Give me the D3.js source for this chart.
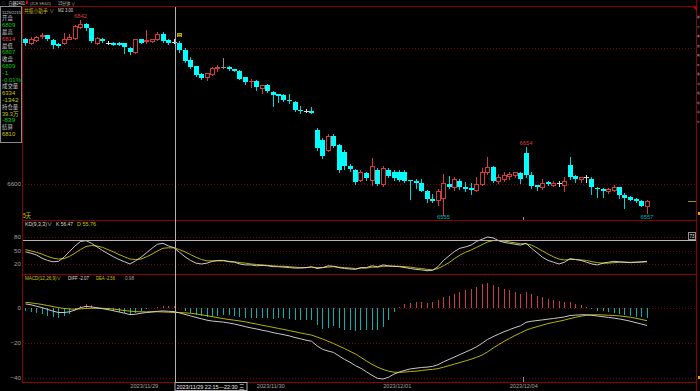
<!DOCTYPE html>
<html><head><meta charset="utf-8">
<script src="https://cdn.jsdelivr.net/npm/d3@7"></script>
<style>
html,body{margin:0;padding:0;background:#000;}
svg{display:block;}
text{font-family:"Liberation Sans","Noto Sans CJK SC",sans-serif;}
</style></head><body>
<svg id="chart" width="700" height="391"></svg>
<script>
// ---- data ----
const opens=[6813,6807,6812,6818,6819,6812,6806,6808,6814,6815,
6831,6835,6829,6808,6814,6808,6808,6808,6807,6800,
6794,6813,6811,6811,6813,6821,6812,6809,6808,6797,
6782,6773,6762,6757,6762,6771,6772,6772,6769,6767,
6757,6751,6752,6742,6746,6736,6732,6731,6723,6721,
6709,6708,6708,6680,6665,6650,6671,6657,6647,6627,
6621,6606,6616,6606,6621,6600,6621,6618,6618,6618,
6606,6604,6602,6590,6578,6576,6580,6600,6596,6605,
6596,6594,6591,6600,6617,6625,6605,6607,6612,6613,
6616,6645,6613,6598,6595,6603,6599,6601,6598,6628,
6612,6607,6610,6608,6594,6593,6589,6591,6595,6584,
6581,6578,6575,6568];
const highs=[6815,6816,6818,6822,6820,6813,6807,6822,6821,6834,
6842,6837,6830,6816,6815,6810,6809,6809,6808,6801,
6814,6814,6826,6814,6823,6823,6813,6814,6810,6800,
6787,6774,6763,6764,6772,6775,6785,6773,6770,6768,
6758,6755,6753,6746,6747,6737,6733,6732,6732,6722,
6715,6710,6713,6682,6667,6673,6673,6659,6650,6630,
6622,6620,6618,6638,6623,6626,6623,6620,6620,6620,
6606,6608,6608,6591,6586,6592,6615,6612,6611,6607,
6603,6601,6611,6623,6640,6627,6615,6617,6618,6618,
6617,6654,6618,6599,6608,6605,6604,6605,6610,6640,
6613,6611,6613,6610,6595,6594,6594,6599,6596,6587,
6582,6579,6576,6576];
const lows=[6805,6806,6811,6815,6812,6800,6801,6806,6813,6814,
6830,6827,6809,6806,6809,6806,6804,6804,6793,6792,
6793,6807,6808,6809,6812,6809,6806,6807,6795,6780,
6771,6759,6754,6753,6761,6767,6771,6768,6766,6754,
6747,6743,6739,6734,6736,6715,6721,6722,6719,6708,
6705,6706,6704,6650,6638,6648,6654,6618,6622,6619,
6600,6604,6606,6599,6598,6597,6610,6606,6604,6603,
6578,6594,6589,6573,6574,6569,6555,6594,6591,6593,
6589,6586,6589,6598,6615,6603,6601,6605,6607,6611,
6601,6611,6594,6591,6593,6598,6597,6597,6589,6608,
6603,6603,6603,6586,6581,6581,6587,6589,6579,6564,
6576,6574,6567,6557];
const closes=[6807,6813,6816,6819,6813,6805,6803,6814,6817,6832,
6835,6829,6811,6815,6810,6808,6805,6805,6801,6795,
6813,6808,6812,6813,6821,6810,6808,6809,6797,6781,
6772,6760,6756,6763,6771,6772,6772,6769,6767,6755,
6750,6752,6743,6745,6737,6731,6730,6723,6722,6709,
6707,6708,6705,6653,6641,6671,6656,6621,6626,6622,
6603,6618,6609,6627,6600,6624,6612,6609,6606,6605,
6605,6602,6590,6578,6575,6590,6601,6596,6607,6595,
6593,6591,6600,6618,6625,6605,6610,6613,6615,6617,
6608,6613,6597,6596,6602,6600,6601,6601,6604,6610,
6607,6610,6610,6595,6592,6589,6592,6595,6584,6580,
6577,6575,6568,6575];
const kValues=[47,44,40,33,28,25,26,35,48,60,70,72,66,58,50,43,36,30,25,20,27,35,
45,55,64,66,60,56.47,46,36,28,22,20,22,26,28,28,25,24,20,18,18,16,17,16,14,
14,13,12,11,11,12,14,10,12,16,15,12,10,9,8,12,12,16,14,18,16,15,14,12,10,
8,7,5,6,14,28,38,48,55,58,62,70,75,80,78,72,68,66,64,62,66,55,
45,35,28,24,20,24,32,30,28,24,20,18,22,24,26,25,24,23,24,25,26];
const dValues=[52,49,46,42,37,33,31,32,37,44,52,59,61,60,57,52,47,41,36,31,30,31,
36,42,49,55,56,55.76,52,47,41,35,30,27,27,27,27,26,25,23,22,20,19,18,17,16,
15,15,14,13,12,12,13,12,12,13,14,13,12,11,10,11,11,13,13,15,15,15,15,14,13,
11,10,8,7,10,16,23,32,40,46,51,57,63,69,72,72,71,69,67,65,65,62,
56,49,42,36,31,29,30,30,29,28,25,23,22,22,23,24,24,24,24,24,25];
const diffValues=[2.3,1.8,1.0,0.2,-0.8,-1.8,-2.6,-2.6,-2.2,-1.2,
0.2,0.9,0.6,0.1,-0.4,-1.0,-1.6,-2.3,-3.0,-3.8,-3.6,-3.0,
-2.6,-2.3,-1.9,-1.7,-1.9,-2.07,-2.8,-3.7,-4.5,-5.4,-6.2,-7.0,-7.5,-7.8,
-8.1,-8.6,-9.2,-9.9,-10.7,-11.4,-12.0,-12.7,-13.3,-14.1,
-14.7,-15.3,-16.0,-16.9,-17.6,-18.4,-19.0,
-21.6,-23.6,-24.6,-25.4,-27.4,-29.4,-31.0,-33.0,
-34.5,-36.5,-38.5,-40.2,-40.6,-39.6,-37.8,-36.6,
-35.6,-34.8,-34.4,-34.0,-33.8,-33.4,-32.4,-30.8,
-29.4,-28.0,-26.6,-25.2,-23.8,-22.2,-20.2,-18.0,
-16.4,-15.0,-13.6,-12.4,-11.2,-10.2,-8.2,
-7.6,-7.2,-6.8,-6.4,-6.0,-5.6,-5.1,-4.3,
-4.1,-3.9,-3.9,-4.2,-4.6,-5.0,-5.4,
-5.8,-6.3,-6.9,-7.6,-8.4,-9.2,-10.0];
const deaValues=[3.2,2.9,2.5,2.0,1.4,0.8,0.2,-0.3,-0.6,-0.7,
-0.5,-0.3,-0.2,-0.15,-0.2,-0.35,-0.6,-1.05,-1.5,-1.8,-2.1,-2.2,
-2.2,-2.2,-2.2,-2.3,-2.45,-2.56,-2.65,-2.8,-3.05,-3.4,-3.9,-4.45,-5.0,-5.55,
-6.1,-6.6,-7.0,-7.45,-7.95,-8.6,-9.2,-9.85,-10.45,-11.05,
-11.7,-12.3,-12.95,-13.6,-14.3,-14.9,-15.5,
-16.6,-17.7,-19.0,-20.3,-21.8,-23.2,-24.8,-26.3,
-28.3,-30.3,-32.2,-33.8,-35.1,-36.1,-36.7,-36.75,
-36.6,-36.3,-36.1,-35.75,-35.35,-35.1,-34.65,-33.85,
-32.95,-32.05,-31.15,-30.25,-29.3,-28.2,-26.95,-25.1,
-22.95,-21.0,-19.1,-17.4,-15.75,-14.25,-12.7,
-11.6,-10.7,-9.8,-8.9,-8.25,-7.6,-6.9,-6.1,
-5.35,-4.7,-4.2,-3.95,-3.85,-4.0,-4.15,
-4.3,-4.55,-4.9,-5.35,-5.9,-6.6,-7.25];
const macdBars=[-1.8,-2.2,-3,-3.6,-4.4,-5.2,-5.6,-4.6,-3.2,-1,
1.4,2.4,1.6,0.5,-0.4,-1.3,-2,-2.5,-3,-4,-3,-1.6,
-0.8,-0.2,0.6,1.2,1.1,0.98,-0.3,-1.8,-2.9,-4,-4.6,-5.1,-5,-4.5,
-4,-4,-4.4,-4.9,-5.5,-5.6,-5.6,-5.7,-5.7,-6.1,
-6,-6,-6.1,-6.6,-6.6,-7,-7,
-10,-11.8,-11.2,-10.2,-11.2,-12.4,-12.4,-13.4,
-12.4,-12.4,-12.6,-12.8,-11,-7,-2.2,0.3,
2,3,3.4,3.5,3.1,3.4,4.5,6.1,
7.1,8.1,9.1,10.1,11,12,13.5,14.2,
13.1,12,11,10,9.1,8.1,9,
8,7,6,5,4.5,4,3.6,3.6,
2.5,1.6,0.6,-0.5,-1.5,-2,-2.5,
-3,-3.5,-4,-4.5,-5,-5.2,-5.5];
const dateLabels=["2023/11/29","2023/11/30","2023/12/01","2023/12/04"];
const dateBarIndex=[21.5,44.5,67.5,90.5];
const priceGrid=[6600,6800];
const priceLabels=[6600]; // 6800 label is hidden behind the info box in the reference
const kdTicks=[80,50,20];
const macdTicks=[0,-20,-40];
const markedHighs=[10,91];
const markedLows=[76,113];
const signalBars=[28];
const crossBar=27;
const infoRows=[
 ["1129/2215","#d0d0d0"],["开盘","#c8c8c8"],["6809","#00c800"],["最高","#c8c8c8"],["6814","#e04040"],
 ["最低","#c8c8c8"],["6807","#00c800"],["收盘","#c8c8c8"],["6809","#00c800"],["-1","#00c800"],
 ["-0.01%","#00c800"],["成交量","#c8c8c8"],["6334","#c8c800"],["-1342","#c8c800"],["持仓量","#c8c8c8"],
 ["39.3万","#c8c800"],["-839","#00c800"],["结算","#c8c8c8"],["6810","#c8c800"]];
const sideGlyphs=["委","比","委","差","卖","买","最","涨","幅","现","总","外"];

// ---- layout ----
const svg=d3.select("#chart");
const L=22,R=696;
const mainTop=6,mainBot=220,kdTop=220,kdBot=274,macdTop=274,macdBot=382;
const N=closes.length;
const x=d3.scaleLinear().domain([0,N-1]).range([25.5,25.5+5.5*(N-1)]);
const yP=d3.scaleLinear().domain([6547,6862]).range([mainBot,mainTop]);
const yK=d3.scaleLinear().domain([-2.2,117.8]).range([kdBot,kdTop]);
const yM=d3.scaleLinear().domain([-42.3,19.4]).range([macdBot,macdTop]);
const RED="#d03c3c",CYAN="#00ffff",CYANW="#00d4d4",GRID="#780000",BORDER="#8c0000",
      YEL="#c8c800",WHITE="#dcdcdc",GREY="#a0a0a0",HCYAN="#00b4b4";

svg.append("rect").attr("width",700).attr("height",391).attr("fill","#000");

function txt(g,tx,ty,s,fill,size,anchor,len){
  const t=g.append("text").attr("x",tx).attr("y",ty).text(s).attr("fill",fill)
   .attr("font-size",size||6).attr("text-anchor",anchor||"start");
  if(len) t.attr("textLength",len).attr("lengthAdjust","spacingAndGlyphs");
  return t;
}
function hdot(v,scale){
  const yy=Math.round(scale(v))+0.5;
  svg.append("line").attr("x1",L).attr("x2",R).attr("y1",yy).attr("y2",yy)
   .attr("stroke",GRID).attr("stroke-dasharray","1,2").attr("shape-rendering","crispEdges");
}
priceGrid.forEach(v=>hdot(v,yP));
kdTicks.forEach(v=>hdot(v,yK));
macdTicks.forEach(v=>hdot(v,yM));

// axes (left)
function leftAxis(scale,ticks){
  const g=svg.append("g").attr("transform",`translate(${L},0)`)
    .call(d3.axisLeft(scale).tickValues(ticks).tickSize(0).tickPadding(1).tickFormat(d3.format("d")));
  g.select(".domain").remove();
  g.selectAll("text").attr("fill",GREY).attr("font-size",6.2).attr("font-family","Liberation Sans");
}
leftAxis(yP,priceLabels);leftAxis(yK,kdTicks);leftAxis(yM,macdTicks);

// bottom axis
const gx=svg.append("g").attr("transform",`translate(0,${macdBot+1})`)
  .call(d3.axisBottom(x).tickValues(dateBarIndex).tickSize(0).tickPadding(1).tickFormat((d,i)=>dateLabels[i]));
gx.select(".domain").remove();
gx.selectAll("text").attr("fill",GREY).attr("font-size",6).attr("font-family","Liberation Sans")
  .attr("textLength",28).attr("lengthAdjust","spacingAndGlyphs");
// week boundary tick
const wx=Math.floor(x(dateBarIndex[3]))+0.5;
svg.append("line").attr("x1",wx).attr("x2",wx).attr("y1",mainBot-3).attr("y2",mainBot).attr("stroke","#909090");
svg.append("line").attr("x1",wx).attr("x2",wx).attr("y1",macdBot-5).attr("y2",macdBot).attr("stroke","#909090");

// ---- candles ----
const gc=svg.append("g").attr("shape-rendering","crispEdges");
for(let i=0;i<N;i++){
  const px=Math.floor(x(i)), o=opens[i], c=closes[i], h=highs[i], l=lows[i];
  const yo=Math.round(yP(o)), yc=Math.round(yP(c)), yh=Math.round(yP(h)), yl=Math.round(yP(l));
  if(o===c){
    const col=(i===36)?"#909090":WHITE;
    gc.append("line").attr("x1",px+0.5).attr("x2",px+0.5).attr("y1",yh).attr("y2",yl+1).attr("stroke",col);
    gc.append("line").attr("x1",px-2).attr("x2",px+3).attr("y1",yo+0.5).attr("y2",yo+0.5).attr("stroke",col);
  } else if(c<o){
    gc.append("line").attr("x1",px+0.5).attr("x2",px+0.5).attr("y1",yh).attr("y2",yl+1).attr("stroke",CYANW);
    gc.append("rect").attr("x",px-2).attr("y",yo).attr("width",5).attr("height",Math.max(1,yc-yo)).attr("fill",CYAN);
  } else {
    const top=yc, bot=yo;
    if(yh<top) gc.append("line").attr("x1",px+0.5).attr("x2",px+0.5).attr("y1",yh).attr("y2",top).attr("stroke",RED);
    if(yl>bot) gc.append("line").attr("x1",px+0.5).attr("x2",px+0.5).attr("y1",bot+1).attr("y2",yl+1).attr("stroke",RED);
    if(bot-top>=2){
      gc.append("rect").attr("x",px-1.5).attr("y",top+0.5).attr("width",4).attr("height",bot-top).attr("fill","#000").attr("stroke",RED);
    } else {
      gc.append("rect").attr("x",px-2).attr("y",top).attr("width",5).attr("height",Math.max(1,bot-top+1)).attr("fill",RED);
      gc.append("line").attr("x1",px+0.5).attr("x2",px+0.5).attr("y1",yh).attr("y2",yl+1).attr("stroke",RED);
    }
  }
}
// signal marker
signalBars.forEach(i=>{
  const px=Math.floor(x(i)), yy=Math.round(yP(highs[i]))-8;
  gc.append("rect").attr("x",px-2).attr("y",yy).attr("width",5).attr("height",4).attr("fill","#b8a800");
  gc.append("line").attr("x1",px-1).attr("x2",px+2).attr("y1",yy+1.5).attr("y2",yy+1.5).attr("stroke","#6a5a00");
  gc.append("line").attr("x1",px-1).attr("x2",px+2).attr("y1",yy+3).attr("y2",yy+3).attr("stroke","#6a5a00");
});
// extreme labels
markedHighs.forEach(i=>txt(svg,x(i),yP(highs[i])-2,String(highs[i]),RED,5.8,"middle",13));
markedLows.forEach(i=>txt(svg,x(i),Math.min(yP(lows[i])+5.5,219),String(lows[i]),"#00b0b0",5.8,"middle",13));

// ---- KD ----
const lineK=d3.line().x((d,i)=>x(i)).y(d=>yK(d));
svg.append("path").attr("d",lineK(dValues)).attr("fill","none").attr("stroke",YEL).attr("stroke-width",0.9);
svg.append("path").attr("d",lineK(kValues)).attr("fill","none").attr("stroke",WHITE).attr("stroke-width",0.9);

// ---- MACD ----
const gh=svg.append("g").attr("shape-rendering","crispEdges");
macdBars.forEach((v,i)=>{
  const px=Math.floor(x(i))+0.5;
  gh.append("line").attr("x1",px).attr("x2",px).attr("y1",Math.round(yM(0))).attr("y2",Math.round(yM(v)))
    .attr("stroke",v>=0?RED:HCYAN);
});
const lineM=d3.line().x((d,i)=>x(i)).y(d=>yM(d));
svg.append("path").attr("d",lineM(deaValues)).attr("fill","none").attr("stroke",YEL).attr("stroke-width",0.9);
svg.append("path").attr("d",lineM(diffValues)).attr("fill","none").attr("stroke",WHITE).attr("stroke-width",0.9);

// ---- panel borders ----
const gb=svg.append("g").attr("shape-rendering","crispEdges");
[mainTop,mainBot,kdBot,macdBot].forEach(yy=>gb.append("line").attr("x1",L).attr("x2",R+1).attr("y1",yy+0.5).attr("y2",yy+0.5).attr("stroke",BORDER));
gb.append("line").attr("x1",L+0.5).attr("x2",L+0.5).attr("y1",mainTop).attr("y2",macdBot+1).attr("stroke",BORDER);
gb.append("line").attr("x1",R+0.5).attr("x2",R+0.5).attr("y1",0).attr("y2",391).attr("stroke",BORDER);
svg.append("path").attr("d",`M${R-3},${mainTop+1}L${R+1},${mainTop+1}L${R+1},${mainTop+5}Z`).attr("fill","#d00000");

// last price marker
const ly=Math.round(yP(closes[N-1]))+0.5;
gb.append("line").attr("x1",R-8).attr("x2",R).attr("y1",ly).attr("y2",ly).attr("stroke","#a09000");
svg.append("rect").attr("x",R+2).attr("y",Math.round(yP(6557))-1).attr("width",2).attr("height",3).attr("fill","#c8b400");
svg.append("rect").attr("x",R+2).attr("y",macdBot-6).attr("width",2).attr("height",3).attr("fill","#c8b400");
// right side column (mostly outside the window in the reference)
sideGlyphs.forEach((s,k)=>txt(svg,697,18+k*9.5,s,"#b0b0b0",2.8,"start"));

// ---- crosshair ----
const cx=Math.floor(x(crossBar))+1.5;
gb.append("line").attr("x1",cx).attr("x2",cx).attr("y1",mainTop+1).attr("y2",macdBot+1).attr("stroke","#b4b4b4");
gb.append("line").attr("x1",L+1).attr("x2",R).attr("y1",240.5).attr("y2",240.5).attr("stroke","#b4b4b4");
svg.append("rect").attr("x",688.5).attr("y",232.5).attr("width",7).attr("height",7).attr("fill","#000").attr("stroke","#909090");
txt(svg,692,238.3,"73","#e0e0e0",5,"middle",5);
svg.append("rect").attr("x",cx-0.5).attr("y",382.5).attr("width",72).attr("height",8).attr("fill","#000").attr("stroke","#b0b0b0");
txt(svg,cx+1,389,"2023/11/29 22:15—22:30 三","#e8e8e8",6,"start",68);

// ---- texts ----
txt(svg,23,218.3,"5天",YEL,6.5,"start",8);
txt(svg,25,226.3,"KD(9,3,3)∨",WHITE,5.4,"start",27);
txt(svg,56,226.3,"K 56.47",WHITE,5.4,"start",17);
txt(svg,77,226.3,"D 55.76",YEL,5.4,"start",19);
txt(svg,25,280.3,"MACD(12,26,9)∨",YEL,5.4,"start",36);
txt(svg,68,280.3,"DIFF -2.07",WHITE,5.4,"start",21);
txt(svg,96,280.3,"DEA -2.56",YEL,5.4,"start",19);
txt(svg,125,280.3,"0.98",GREY,5.4,"start",9);
txt(svg,24,12.5,"共振小助手 ∨","#c8b400",5.5,"start",30);
txt(svg,58,12.2,"M2 3.00",WHITE,4.6,"start",15);

// header
txt(svg,0.5,5,"◁▷","#909090",4,"start",5.5);
txt(svg,8.5,5.3,"白糖2401","#d8d8d8",5,"start",16.5);
svg.append("rect").attr("x",26).attr("y",1).attr("width",2).attr("height",3).attr("fill","#d00000");
txt(svg,30,5.3,"(ZCE SR401)","#b0b0b0",4.2,"start",21);
txt(svg,58,5.3,"15分钟 ∨","#b0b0b0",5,"start",17);

// info box: one multi-line text block
svg.append("rect").attr("x",0.5).attr("y",6.5).attr("width",21).attr("height",136).attr("fill","#000").attr("stroke","#8a8a8a").attr("shape-rendering","crispEdges");
const info=svg.append("text").attr("x",2).attr("y",13.5).attr("font-size",5.4);
infoRows.forEach((r,k)=>{
  const s=r[0];
  const isCjk=/[\u4e00-\u9fff]/.test(s)&&!/\d/.test(s);
  const len=isCjk?s.length*5.4:Math.min(19,s.length*3.3);
  const ts=info.append("tspan").attr("x",2).attr("y",13.5+6.8*k).attr("fill",r[1])
    .attr("textLength",len).attr("lengthAdjust","spacingAndGlyphs").text(s);
  if(k===0) ts.attr("font-size",4);
});
</script>
</body></html>
